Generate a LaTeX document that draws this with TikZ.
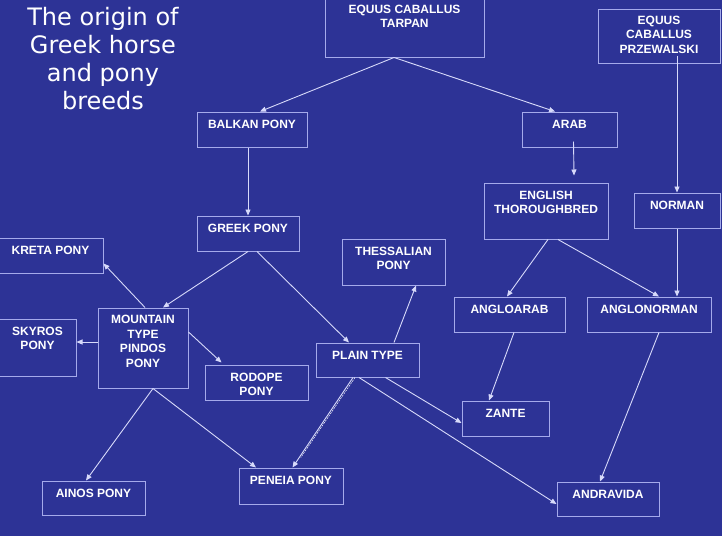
\documentclass[tikz,border=0pt]{standalone}
\usepackage{fontspec}
\setmainfont{Liberation Sans}
\newfontfamily\titlefont{DejaVu Sans}
\usetikzlibrary{arrows.meta}
\definecolor{slideblue}{RGB}{45,51,150}
\definecolor{boxline}{RGB}{165,170,235}
\definecolor{edgeline}{RGB}{215,218,250}

\begin{document}
\begin{tikzpicture}[x=1pt, y=-1pt,
  box/.style={draw=boxline, line width=1pt, inner sep=0pt},
  tag/.style={anchor=north, inner sep=0pt, yshift=-8.2pt, text=white, align=center,
    font=\bfseries\fontsize{12}{14.5}\selectfont},
  edge/.style={draw=edgeline, line width=0.9pt, -{Triangle[length=6pt,width=5pt]}}]
\fill[slideblue] (0,0) rectangle (722,536);
\useasboundingbox (0,0) rectangle (722,536);
\clip (0,0) rectangle (722,536);
\node[anchor=north, inner sep=0pt, text=white, align=center,
  font=\titlefont\fontsize{24}{28}\selectfont] (title) at (103,7.5)
  {The origin of\\Greek horse\\and pony\\breeds};
% wild ancestors
\node[box, minimum width=159pt, minimum height=60pt, label={[tag]north:EQUUS CABALLUS\\TARPAN}] (tarpan) at (404.5,27) {};
\node[box, minimum width=122pt, minimum height=54pt, label={[tag, yshift=1pt]north:EQUUS\\CABALLUS\\PRZEWALSKI}] (przewalski) at (659,36) {};
\node[box, minimum width=110pt, minimum height=35pt, label={[tag]north:BALKAN PONY}] (balkan) at (252,129.5) {};
\node[box, minimum width=95pt, minimum height=35pt, label={[tag]north:ARAB}] (arab) at (569.5,129.5) {};
\node[box, minimum width=124pt, minimum height=56pt, label={[tag]north:ENGLISH\\THOROUGHBRED}] (english) at (546,211) {};
\node[box, minimum width=86pt, minimum height=35pt, label={[tag]north:NORMAN}] (norman) at (677,210.5) {};
\node[box, minimum width=102pt, minimum height=35pt, label={[tag]north:GREEK PONY}] (greek) at (248,233.5) {};
\node[box, minimum width=105pt, minimum height=35pt, label={[tag]north:KRETA PONY}] (kreta) at (50.5,255.5) {};
\node[box, minimum width=103pt, minimum height=46pt, label={[tag]north:THESSALIAN\\PONY}] (thessalian) at (393.5,262) {};
\node[box, minimum width=111pt, minimum height=35pt, label={[tag]north:ANGLOARAB}] (angloarab) at (509.5,314.5) {};
\node[box, minimum width=124pt, minimum height=35pt, label={[tag]north:ANGLONORMAN}] (anglonorman) at (649,314.5) {};
\node[box, minimum width=77pt, minimum height=57pt, label={[tag]north:SKYROS\\PONY}] (skyros) at (37.5,347.5) {};
\node[box, minimum width=90pt, minimum height=80pt, label={[tag, yshift=0.5pt]north:MOUNTAIN\\TYPE\\PINDOS\\PONY}] (mountain) at (143,348) {};
\node[box, minimum width=103pt, minimum height=35pt, label={[tag]north:RODOPE\\PONY}] (rodope) at (256.5,382.5) {};
\node[box, minimum width=103pt, minimum height=34pt, label={[tag]north:PLAIN TYPE}] (plain) at (367.5,360) {};
\node[box, minimum width=87pt, minimum height=35pt, label={[tag]north:ZANTE}] (zante) at (505.5,418.5) {};
\node[box, minimum width=103pt, minimum height=34pt, label={[tag]north:AINOS PONY}] (ainos) at (93.5,498) {};
\node[box, minimum width=104pt, minimum height=36pt, label={[tag]north:PENEIA PONY}] (peneia) at (291,486) {};
\node[box, minimum width=102pt, minimum height=34pt, label={[tag]north:ANDRAVIDA}] (andravida) at (608,499) {};
% lines of descent
\draw[edge] ([xshift=-10.5pt]tarpan.south) -- ([xshift=8pt]balkan.north);
\draw[edge] ([xshift=-10.5pt]tarpan.south) -- ([xshift=-14.5pt]arab.north);
\draw[edge] ([xshift=4pt,yshift=6pt]arab.south) -- ([xshift=28pt,yshift=7pt]english.north);
\draw[edge] ([xshift=18pt,yshift=8pt]przewalski.south) -- (norman.north);
\draw[edge] ([xshift=-4pt]balkan.south) -- (greek.north);
\draw[edge] (greek.south) -- ([xshift=20pt]mountain.north);
\draw[edge] ([xshift=9pt]greek.south) -- ([xshift=-18.5pt]plain.north);
\draw[edge] ([xshift=2pt]mountain.north) -- ([yshift=10pt]kreta.south east);
\draw[edge] ([yshift=6pt]mountain.west) -- ([yshift=5.5pt]skyros.east);
\draw[edge] ([yshift=16pt]mountain.east) -- ([xshift=-35pt,yshift=2pt]rodope.north);
\draw[edge] ([xshift=10pt]mountain.south) -- ([xshift=-7.5pt]ainos.north);
\draw[edge] ([xshift=10pt]mountain.south) -- ([xshift=-35pt]peneia.north);
\draw[edge] ([xshift=-14.5pt]plain.south) -- ([xshift=1.5pt]peneia.north);
\draw[white, line width=0.5pt, dash pattern=on 2pt off 1pt, shorten >=12pt]
  ([xshift=-12.5pt]plain.south) -- ([xshift=3pt]peneia.north);
\draw[edge] ([xshift=26.5pt]plain.north) -- ([xshift=22.5pt]thessalian.south);
\draw[edge] ([xshift=18pt]plain.south) -- ([yshift=-4.5pt]zante.west);
\draw[edge] ([xshift=-8.5pt]plain.south) -- ([yshift=-5pt]andravida.west);
\draw[edge] ([xshift=2pt]english.south) -- ([xshift=-2.5pt]angloarab.north);
\draw[edge] ([xshift=12pt]english.south) -- ([xshift=10pt]anglonorman.north);
\draw[edge] (norman.south) -- ([xshift=28pt]anglonorman.north);
\draw[edge] ([xshift=4.5pt]angloarab.south) -- ([xshift=-16.5pt]zante.north);
\draw[edge] ([xshift=10pt]anglonorman.south) -- ([xshift=-8pt]andravida.north);
\end{tikzpicture}
\end{document}
